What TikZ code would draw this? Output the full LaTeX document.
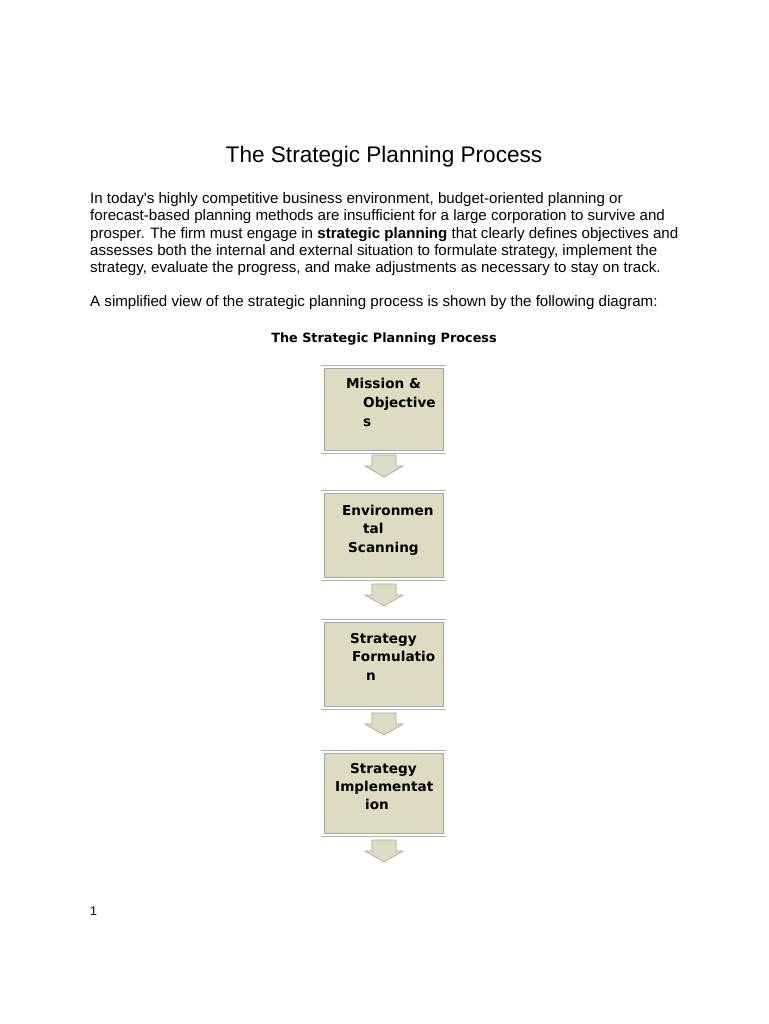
\documentclass[tikz,border=0pt]{standalone}
\usepackage{fontspec}
\setmainfont{Liberation Sans}
\newfontfamily\djvfont{DejaVu Sans}
\begin{document}
\begin{tikzpicture}[x=1pt,y=-1pt,
  body/.style={anchor=base west,inner sep=0,font=\fontsize{15.1}{16}\selectfont},
  boxfill/.style={fill=boxc,draw=gray!70,line width=0.8},
  boxtxt/.style={anchor=base west,inner sep=0,font=\djvfont\bfseries\fontsize{13.6}{15}\selectfont},
  blockarrow/.style={fill=boxc,draw=gray!70,line width=0.7}]
\definecolor{boxc}{HTML}{DDDCC2}
\useasboundingbox (0,0) rectangle (768,1024);
\fill[white] (0,0) rectangle (768,1024);
\node[anchor=base,inner sep=0,font=\fontsize{22.6}{24}\selectfont] (title) at (384,163) {The Strategic Planning Process};
\node[body] (l1) at (90,204) {In today\textquotesingle s highly competitive business environment, budget-oriented planning or};
\node[body] (l2) at (90,221) {forecast-based planning methods are insufficient for a large corporation to survive and};
\node[body] (l3) at (90,238) {prosper. The firm must engage in \textbf{strategic planning} that clearly defines objectives and};
\node[body] (l4) at (90,255) {assesses both the internal and external situation to formulate strategy, implement the};
\node[body] (l5) at (90,272) {strategy, evaluate the progress, and make adjustments as necessary to stay on track.};
\node[body] (l6) at (90,306) {A simplified view of the strategic planning process is shown by the following diagram:};
\node[anchor=base,inner sep=0,font=\djvfont\bfseries\fontsize{12.8}{15}\selectfont] (sub) at (384,342) {The Strategic Planning Process};
% boxes
\foreach \n/\t/\b in {b1/365/453,b2/490/580,b3/619/709,b4/750/836}{
  \draw[gray!60,line width=0.8] (321,\t) -- (446,\t) (321,\b) -- (446,\b);
  \draw[boxfill] (324,\t+3) rectangle (443,\b-3);
  \coordinate (\n) at (384,\t);
}
\node[boxtxt] (t1a) at (346,388) {Mission \&};
\node[boxtxt] (t1b) at (363,407) {Objective};
\node[boxtxt] (t1c) at (363,426) {s};
\node[boxtxt] (t2a) at (342,515) {Environmen};
\node[boxtxt] (t2b) at (363,533) {tal};
\node[boxtxt] (t2c) at (348,552) {Scanning};
\node[boxtxt] (t3a) at (350,643) {Strategy};
\node[boxtxt] (t3b) at (352,661) {Formulatio};
\node[boxtxt] (t3c) at (366,680) {n};
\node[boxtxt] (t4a) at (350,773) {Strategy};
\node[boxtxt] (t4b) at (335,791) {Implementat};
\node[boxtxt] (t4c) at (365,809) {ion};
% arrows
\foreach \y in {455,584,713,840}{
  \draw[blockarrow] (372,\y) -- (396,\y) -- (396,\y+11) -- (403,\y+11) -- (384,\y+22) -- (365,\y+11) -- (372,\y+11) -- cycle;
}
\node[anchor=base west,inner sep=0,font=\fontsize{12.5}{14}\selectfont] (pg) at (90,915) {1};
\end{tikzpicture}
\end{document}
